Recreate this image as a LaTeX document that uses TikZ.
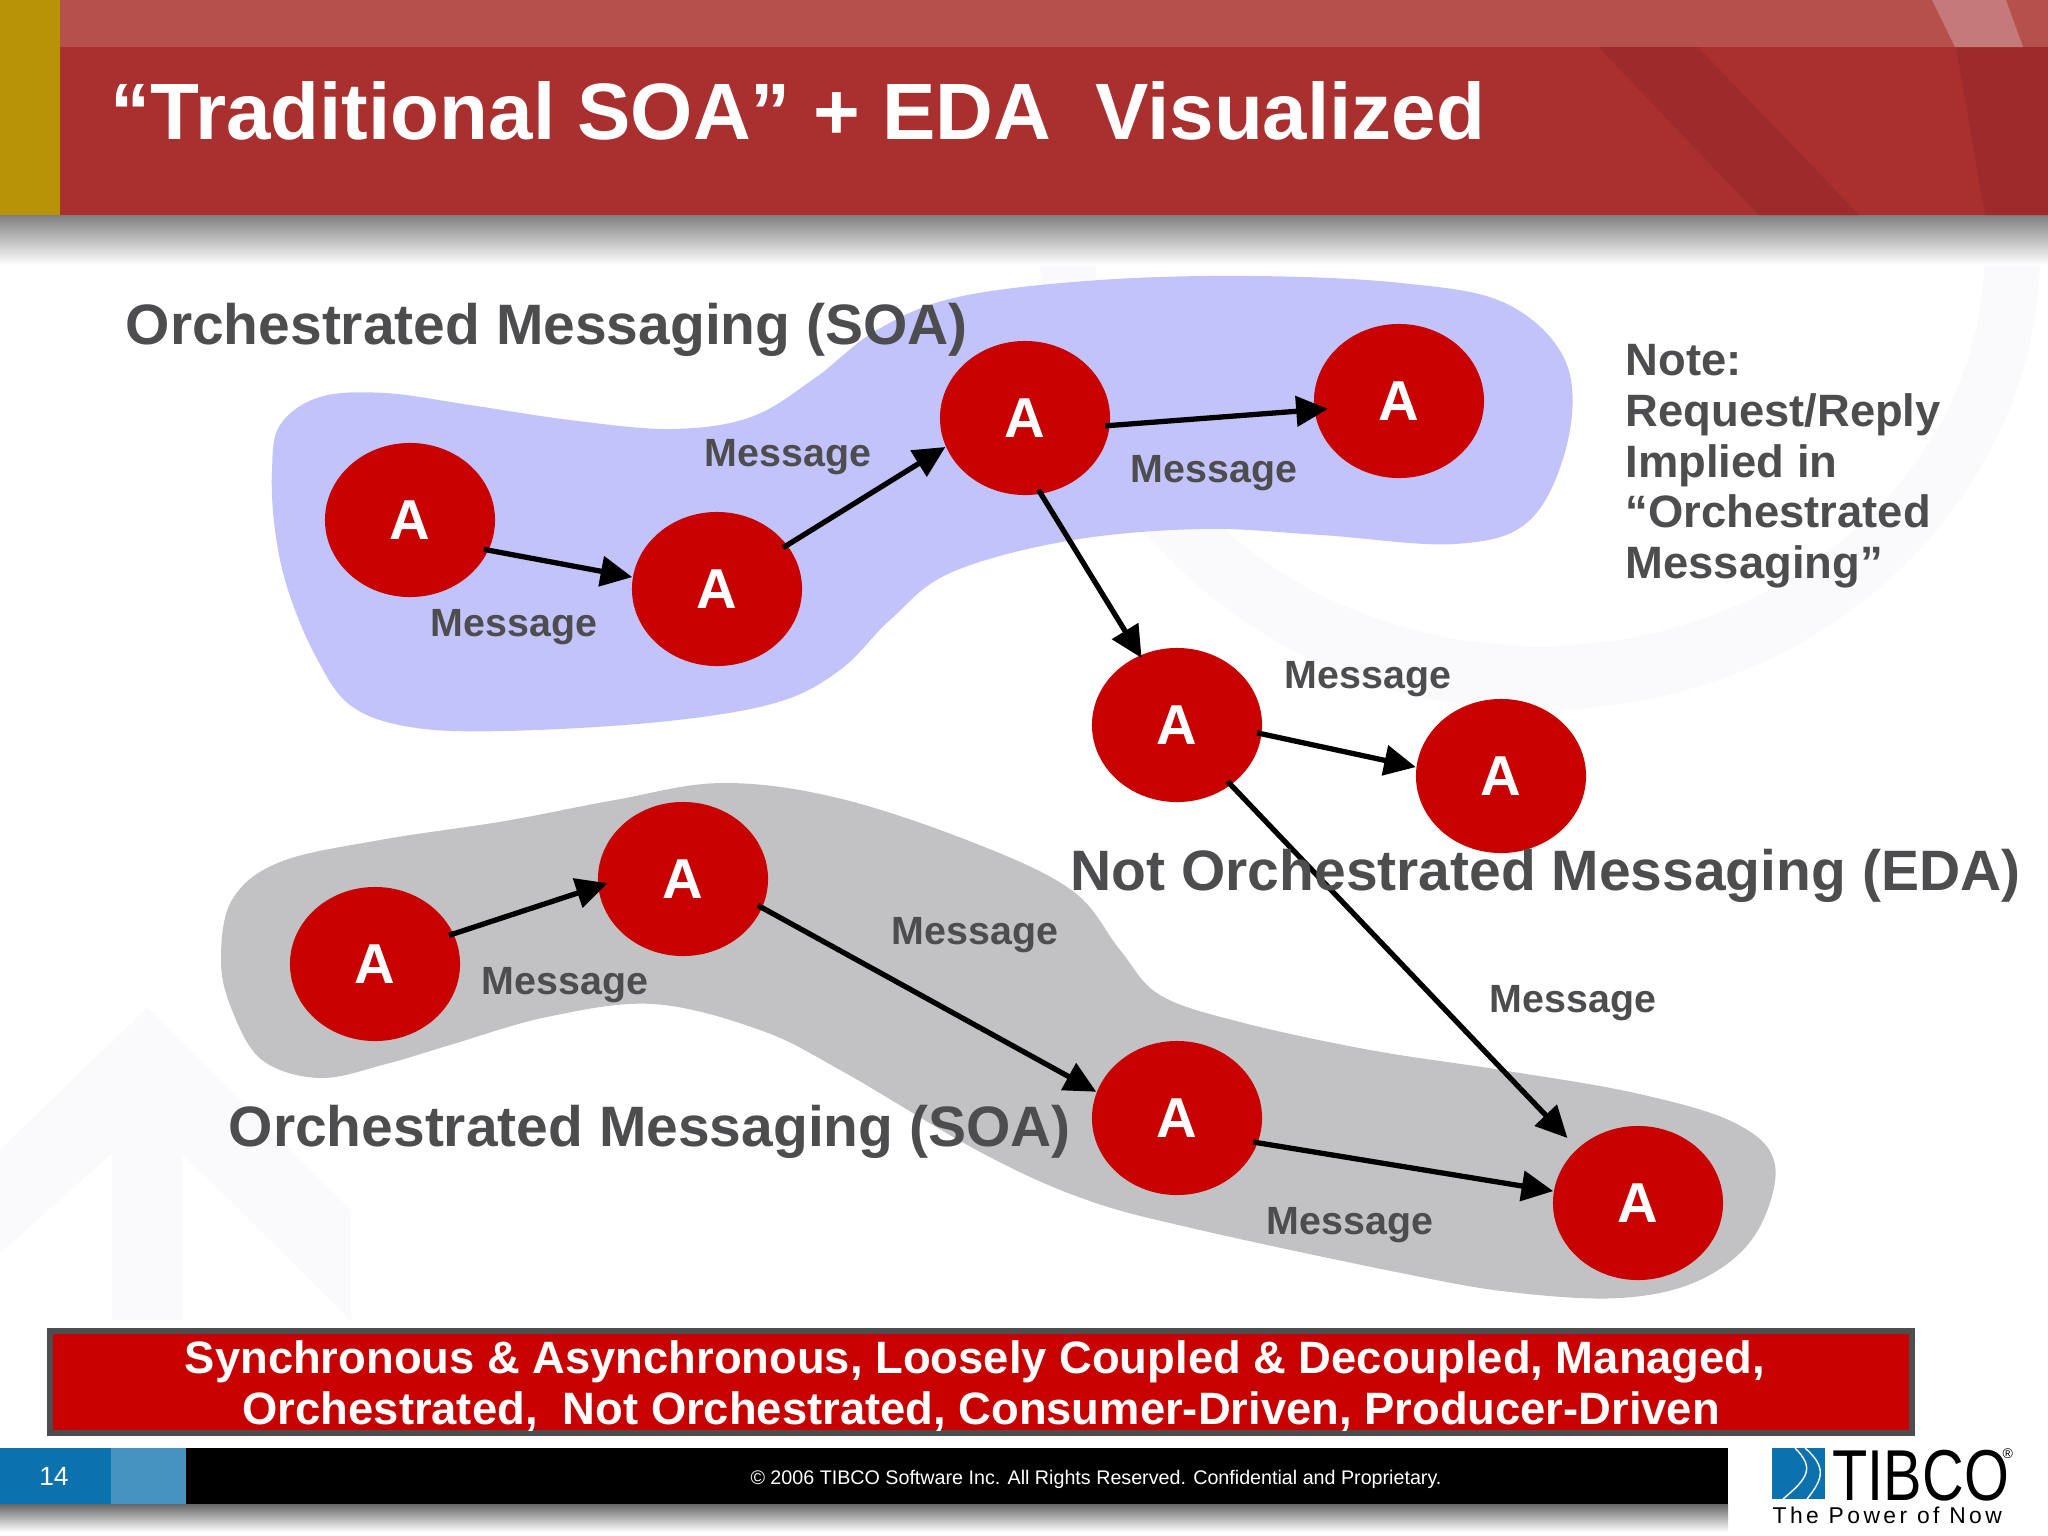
\documentclass[tikz,border=0pt]{standalone}
\usepackage{fontspec}
\setmainfont{Liberation Sans}
\newfontfamily\logofont[LetterSpace=15]{Liberation Sans}
\newfontfamily\tibcofont[FakeStretch=0.8]{Liberation Sans}
\usetikzlibrary{arrows.meta,shapes.geometric,positioning}
\definecolor{titelrot}{HTML}{AA2F2F}
\definecolor{hellrot}{HTML}{B5504D}
\definecolor{dunkelrot}{HTML}{9E2B2B}
\definecolor{streifenrot}{HTML}{C47A7A}
\definecolor{gold}{HTML}{B89207}
\definecolor{rot}{HTML}{C80000}
\definecolor{textgrau}{HTML}{4D4D4F}
\definecolor{blobblau}{HTML}{C3C3FB}
\definecolor{blobgrau}{HTML}{C2C2C4}
\definecolor{blau}{HTML}{0B72AE}
\definecolor{hellblau}{HTML}{4593C0}
\definecolor{wasser}{HTML}{FAF9FB}
\tikzset{
  agent/.style={ellipse,fill=rot,text=white,minimum width=1.7cm,minimum height=1.54cm,inner sep=0pt,font=\bfseries\fontsize{16}{18}\selectfont},
  pfeil/.style={line width=1.5pt,-{Triangle[length=9pt,width=8.5pt]},shorten <=-1.5pt},
  nachricht/.style={anchor=base west,inner sep=0pt,text=textgrau,font=\bfseries\fontsize{11.2}{13}\selectfont},
  bereich/.style={anchor=base west,inner sep=0pt,text=textgrau,font=\bfseries\fontsize{16.2}{18}\selectfont},
}
\begin{document}
\begin{tikzpicture}[x=0.01cm,y=-0.01cm]
\useasboundingbox (0,0) rectangle (2048,1536);
%Hintergrund und Wasserzeichen
\fill[white!99!wasser] (0,0) rectangle (2048,1536);
\fill[wasser] (1540,250) ellipse (500 and 460);
\fill[white] (1540,250) ellipse (445 and 396);
\fill[wasser] (147,1008) -- (351,1210) -- (351,1320) -- (182,1153) -- (182,1320) -- (112,1320) -- (112,1153) -- (0,1253) -- (0,1150) -- cycle;
%Kopfzeile
\shade[top color=black!50,middle color=black!7,bottom color=white!99!wasser] (0,215) rectangle (2048,265);
\fill[titelrot] (60,0) rectangle (2048,215);
\fill[hellrot] (60,0) rectangle (2048,47);
\fill[gold] (0,0) rectangle (60,215);
\fill[dunkelrot] (1598,47) -- (1698,47) -- (1859,215) -- (1759,215) -- cycle;
\fill[dunkelrot] (1956,47) -- (2048,47) -- (2048,215) -- (1985,215) -- cycle;
\fill[streifenrot] (1932,0) -- (2006,0) -- (2023,47) -- (1955,47) -- cycle;
\node (titel) [anchor=base west,inner sep=0pt,text=white,font=\bfseries\fontsize{22.75}{26}\selectfont] at (110,139) {“Traditional SOA” + EDA\ \ Visualized};
%Flaechen hinter den Agenten
\fill[blobblau] plot[smooth cycle,tension=0.6] coordinates {(272,470) (280,425) (320,397) (385,393) (470,405) (570,420) (671,429) (751,417) (815,378) (877,330) (958,297) (1100,280) (1254,276) (1401,283) (1505,303) (1565,360) (1568,440) (1530,520) (1455,544) (1321,535) (1200,529) (1067,541) (950,573) (890,620) (840,670) (775,703) (659,722) (504,731) (410,727) (350,705) (315,655) (288,590) (275,530)};
\fill[blobgrau] plot[smooth cycle,tension=0.6] coordinates {(221,960) (232,900) (280,862) (380,840) (505,821) (615,800) (723,783) (842,799) (982,846) (1074,892) (1120,950) (1160,995) (1240,1022) (1370,1050) (1501,1070) (1635,1093) (1735,1123) (1775,1165) (1755,1235) (1700,1280) (1620,1298) (1510,1292) (1401,1273) (1200,1230) (1087,1200) (982,1153) (842,1071) (760,1030) (653,1004) (547,1017) (450,1045) (386,1064) (320,1078) (262,1060) (232,1010)};
%Agenten
\foreach \name/\x/\y in {a1/410/520,a2/717/589,a3/1025/418,a4/1399/401,a5/1177/725,a6/1501/776,b1/375/964,b2/683/879,b3/1177/1118,b4/1638/1203}{
  \node[agent] (\name) at (\x,\y) {A};
}
%von/Winkel/nach/Winkel/Abstand am Ziel
\foreach \von/\wa/\nach/\wb/\ab in {a1/-21/a2/172/0,a2/32/a3/200/0,a3/-5/a4/186/-4,a3/-78/a5/118/-1,a5/-6/a6/174/0,a5/-48/b4/138/4,b1/21/b2/185/-3,b2/-20/b3/162/0,b3/-17/b4/172/0}{
  \draw[pfeil,shorten >=\ab pt] (\von.\wa) -- (\nach.\wb);
}
%Beschriftung der Pfeile
\foreach \name/\x/\y in {m1/430/636,m2/704/466,m3/1130/482,m4/1284/688,m5/1489/1012,m6/481/994,m7/891/944,m8/1266/1234}{
  \node[nachricht] (\name) at (\x,\y) {Message};
}
\node[bereich] (soaoben) at (125,344) {Orchestrated Messaging (SOA)};
\node[bereich] (eda) at (1070,890) {Not Orchestrated Messaging (EDA)};
\node[bereich] (soaunten) at (228,1146) {Orchestrated Messaging (SOA)};
\node (hinweis) [anchor=north west,inner sep=0pt,align=left,text=textgrau,font=\bfseries\fontsize{12.9}{14.4}\selectfont] at (1625,344) {Note:\\Request/Reply\\Implied in\\“Orchestrated\\Messaging”};
%Fusszeile
\node (banner) [draw=textgrau,line width=1.7pt,fill=rot,minimum width=18.6cm,minimum height=1.02cm,inner sep=0pt] at (981,1382) {};
\node (bannertext) [text=white,inner sep=0pt,align=center,font=\bfseries\fontsize{12.9}{14.6}\selectfont] at (975,1386) {Synchronous \& Asynchronous, Loosely Coupled \& Decoupled, Managed,\\\ Orchestrated,\ \ Not Orchestrated, Consumer-Driven, Producer-Driven};
\shade[top color=black!60,bottom color=white!99!wasser] (0,1504) rectangle (1728,1532);
\fill[black] (186,1448) rectangle (1728,1504);
\fill[blau] (0,1448) rectangle (111,1504);
\fill[hellblau] (111,1448) rectangle (186,1504);
\node (seite) [text=white,inner sep=0pt,anchor=base,font=\fontsize{7.5}{9}\selectfont] at (54,1485) {14};
\node (copy) [text=white,inner sep=0pt,anchor=base,font=\fontsize{5.6}{8}\selectfont] at (1096,1484) {© 2006 TIBCO Software Inc. All Rights Reserved. Confidential and Proprietary.};
%Logo
\fill[blau] (1772,1448) rectangle (1825,1499);
\draw[white,line width=0.4pt] (1795,1448) .. controls (1815,1468) and (1808,1478) .. (1783,1499);
\draw[white,line width=0.4pt] (1805,1448) .. controls (1828,1468) and (1822,1480) .. (1807,1499);
\node (tibco) [anchor=base west,inner sep=0pt,font=\tibcofont\fontsize{20.5}{22}\selectfont] at (1832,1500) {TIBCO};
\node (zeichen) [anchor=base west,inner sep=0pt,font=\fontsize{4}{5}\selectfont] at (2002,1458) {®};
\node (slogan) [anchor=base west,inner sep=0pt,font=\logofont\fontsize{6.5}{8}\selectfont] at (1772,1523) {The Power of Now};
\end{tikzpicture}
\end{document}
